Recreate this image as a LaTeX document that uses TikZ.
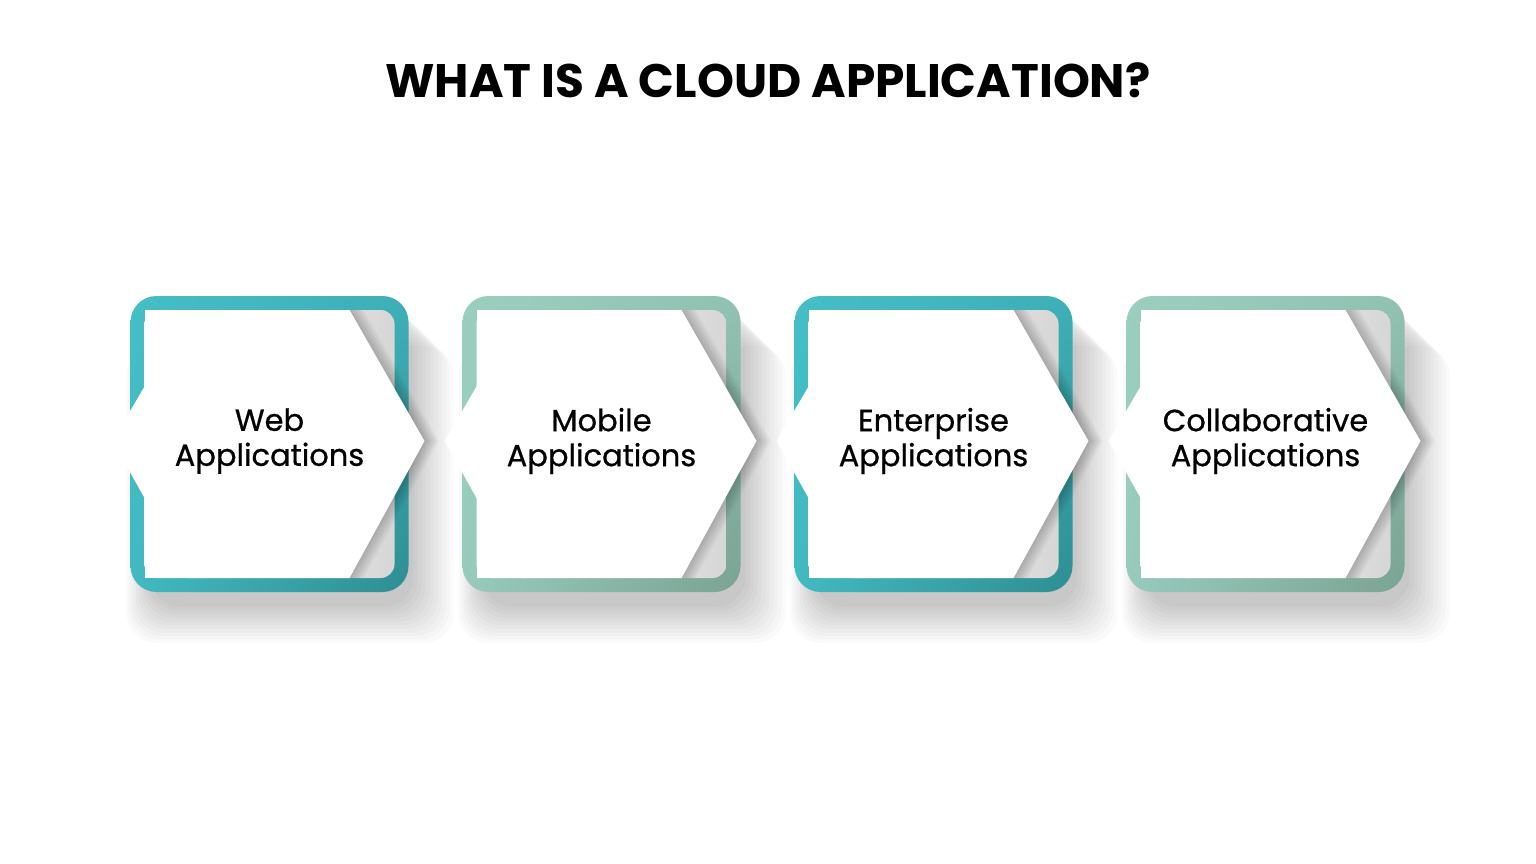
\documentclass[tikz,border=0pt]{standalone}
\usepackage{fontspec}
\setmainfont{Poppins}
\newfontfamily\medfont[FakeBold=0.7]{Poppins}
\usetikzlibrary{shadings}
\definecolor{tealA}{HTML}{45BEC6}
\definecolor{tealB}{HTML}{2E8E92}
\definecolor{sageA}{HTML}{9ACFC0}
\definecolor{sageB}{HTML}{7AA393}
\tikzset{
  frame/.style={rounded corners=26pt},
  inner/.style={rounded corners=14pt},
  lbl/.style={font=\medfont\fontsize{30.5}{35}\selectfont,align=center,text=black},
}
\newcommand{\appbox}[5]{%
  \begin{scope}[shift={(#1,444)}]
    \foreach \r in {0,4,...,40}{
      \fill[black,opacity=0.018,rounded corners=30pt] (-139+\r*0.4-\r+20,-148+\r+10) rectangle (139+\r+5,148+\r*0.9+15);
    }
    \shade[frame,upper left=#2,lower right=#3,upper right=#2!70!#3,lower left=#2!90!#3] (-139,-148) rectangle (139,148);
    \shade[inner,left color=white,right color=black!16] (-125,-134) rectangle (125,134);
    \fill[white] (-125,-134) rectangle (-20,134);
    \foreach \s in {2,4,...,14}{
      \fill[black,opacity=0.03] (-157+\s,-3) -- (-80+\s,-134) -- (80+\s,-134) -- (155+\s,-3) -- (80+\s,134) -- (-80+\s,134) -- cycle;
    }
    \fill[white] (-157,-3) -- (-80,-134) -- (80,-134) -- (155,-3) -- (80,134) -- (-80,134) -- cycle;
    \node[lbl] (#4) at (0,-3) {#5};
  \end{scope}}
\begin{document}
\begin{tikzpicture}[x=1pt,y=-1pt]
\useasboundingbox (0,0) rectangle (1536,864);
\fill[white] (0,0) rectangle (1536,864);
\node[font=\fontsize{47}{52}\selectfont\bfseries] (title) at (768,80) {WHAT IS A CLOUD APPLICATION?};
\appbox{269.5}{tealA}{tealB}{web}{Web\\Applications}
\appbox{601.5}{sageA}{sageB}{mobile}{Mobile\\Applications}
\appbox{933.5}{tealA}{tealB}{ent}{Enterprise\\Applications}
\appbox{1265.5}{sageA}{sageB}{collab}{Collaborative\\Applications}
\end{tikzpicture}
\end{document}
